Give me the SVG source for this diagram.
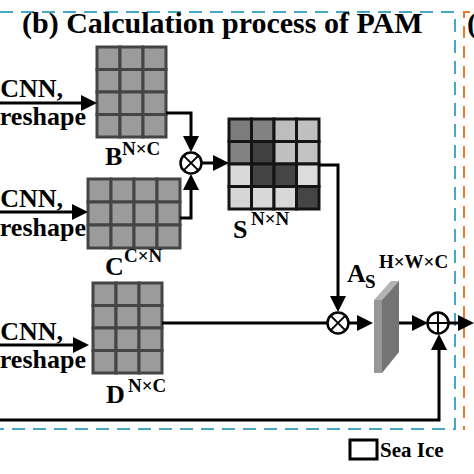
<svg xmlns="http://www.w3.org/2000/svg" width="474" height="474" viewBox="0 0 474 474">
<defs>
<marker id="ah" viewBox="0 0 16 16" refX="12" refY="8" markerWidth="16" markerHeight="16" markerUnits="userSpaceOnUse" orient="auto">
<path d="M0,0 L16,8 L0,16 z" fill="#000"/>
</marker>
</defs>
<style>
text{font-family:"Liberation Serif","Times New Roman",serif;font-weight:bold;fill:#000}
.t{font-size:30px}
.l{font-size:26px}
.s{font-size:19px}
.g rect{fill:#9b9b9b;stroke:#444;stroke-width:3}
.sm rect{stroke:#141414;stroke-width:3}
.c path,.c line{fill:none;stroke:#000;stroke-width:3}
.arr{marker-end:url(#ah)}
.op circle{fill:#fff;stroke:#000;stroke-width:2.5}
.op line{stroke:#000;stroke-width:2}
.blue{fill:none;stroke:#45a6c6;stroke-width:2;stroke-dasharray:13 8}
.orange{fill:none;stroke:#e8792e;stroke-width:2;stroke-dasharray:12 8}
</style>
<rect width="474" height="474" fill="#fff"/>
<g id="frame">
<path class="blue" d="M0,12 H455 V429 H0"/>
<path class="orange" d="M470,12 H464 V430"/>
</g>
<text class="t" x="22" y="33">(b) Calculation process of PAM</text>
<text class="t" x="467" y="33">(</text>
<g id="inputs">
<text class="l" x="63" y="97" text-anchor="end">CNN,</text>
<text class="l" x="86" y="125" text-anchor="end">reshape</text>
<text class="l" x="63" y="207" text-anchor="end">CNN,</text>
<text class="l" x="86" y="236" text-anchor="end">reshape</text>
<text class="l" x="63" y="340" text-anchor="end">CNN,</text>
<text class="l" x="86" y="368" text-anchor="end">reshape</text>
</g>
<g id="B" class="g">
<rect x="97" y="47" width="23" height="22.5"/><rect x="120" y="47" width="23" height="22.5"/><rect x="143" y="47" width="23" height="22.5"/>
<rect x="97" y="69.5" width="23" height="22.5"/><rect x="120" y="69.5" width="23" height="22.5"/><rect x="143" y="69.5" width="23" height="22.5"/>
<rect x="97" y="92" width="23" height="22.5"/><rect x="120" y="92" width="23" height="22.5"/><rect x="143" y="92" width="23" height="22.5"/>
<rect x="97" y="114.5" width="23" height="22.5"/><rect x="120" y="114.5" width="23" height="22.5"/><rect x="143" y="114.5" width="23" height="22.5"/>
<text class="l" x="105" y="165">B</text><text class="s" x="122" y="155">N×C</text>
</g>
<g id="C" class="g">
<rect x="88" y="179" width="23" height="23"/><rect x="111" y="179" width="23" height="23"/><rect x="134" y="179" width="23" height="23"/><rect x="157" y="179" width="23" height="23"/>
<rect x="88" y="202" width="23" height="23"/><rect x="111" y="202" width="23" height="23"/><rect x="134" y="202" width="23" height="23"/><rect x="157" y="202" width="23" height="23"/>
<rect x="88" y="225" width="23" height="23"/><rect x="111" y="225" width="23" height="23"/><rect x="134" y="225" width="23" height="23"/><rect x="157" y="225" width="23" height="23"/>
<text class="l" x="105" y="275">C</text><text class="s" x="124" y="262">C×N</text>
</g>
<g id="D" class="g">
<rect x="93" y="283" width="23" height="22.5"/><rect x="116" y="283" width="23" height="22.5"/><rect x="139" y="283" width="23" height="22.5"/>
<rect x="93" y="305.5" width="23" height="22.5"/><rect x="116" y="305.5" width="23" height="22.5"/><rect x="139" y="305.5" width="23" height="22.5"/>
<rect x="93" y="328" width="23" height="22.5"/><rect x="116" y="328" width="23" height="22.5"/><rect x="139" y="328" width="23" height="22.5"/>
<rect x="93" y="350.5" width="23" height="22.5"/><rect x="116" y="350.5" width="23" height="22.5"/><rect x="139" y="350.5" width="23" height="22.5"/>
<text class="l" x="106" y="403">D</text><text class="s" x="128" y="392">N×C</text>
</g>
<g id="S" class="sm">
<rect x="229" y="119" width="22.5" height="22.5" fill="#7c7c7c"/><rect x="251.5" y="119" width="22.5" height="22.5" fill="#828282"/><rect x="274" y="119" width="22.5" height="22.5" fill="#bdbdbd"/><rect x="296.5" y="119" width="22.5" height="22.5" fill="#c0c0c0"/>
<rect x="229" y="141.5" width="22.5" height="22.5" fill="#828282"/><rect x="251.5" y="141.5" width="22.5" height="22.5" fill="#404040"/><rect x="274" y="141.5" width="22.5" height="22.5" fill="#c0c0c0"/><rect x="296.5" y="141.5" width="22.5" height="22.5" fill="#c2c2c2"/>
<rect x="229" y="164" width="22.5" height="22.5" fill="#dadada"/><rect x="251.5" y="164" width="22.5" height="22.5" fill="#444"/><rect x="274" y="164" width="22.5" height="22.5" fill="#454545"/><rect x="296.5" y="164" width="22.5" height="22.5" fill="#dcdcdc"/>
<rect x="229" y="186.5" width="22.5" height="22.5" fill="#d6d6d6"/><rect x="251.5" y="186.5" width="22.5" height="22.5" fill="#d8d8d8"/><rect x="274" y="186.5" width="22.5" height="22.5" fill="#d8d8d8"/><rect x="296.5" y="186.5" width="22.5" height="22.5" fill="#454545"/>
<text class="l" x="233" y="238">S</text><text class="s" x="251" y="225">N×N</text>
</g>
<g id="AS">
<polygon points="374,300 382,300 399,281 391,281" fill="#b3b3b3"/>
<rect x="374" y="300" width="8" height="73" fill="#979797"/>
<polygon points="382,300 399,281 399,352 382,373" fill="#747474"/>
<text class="l" x="347" y="282">A</text><text class="s" x="365" y="288">S</text><text class="s" x="379" y="268">H×W×C</text>
</g>
<g id="connectors" class="c">
<line class="arr" x1="0" y1="103" x2="93" y2="103"/>
<line class="arr" x1="0" y1="212" x2="84" y2="212"/>
<line class="arr" x1="0" y1="345" x2="85" y2="345"/>
<path class="arr" d="M166,113 H191 V148"/>
<path class="arr" d="M180,218 H191 V178"/>
<line class="arr" x1="202" y1="163" x2="225" y2="163"/>
<path class="arr" d="M319,165 H338 V308"/>
<line x1="162" y1="323" x2="327" y2="323"/>
<line class="arr" x1="349" y1="323" x2="369" y2="323"/>
<line class="arr" x1="399" y1="323" x2="424" y2="323"/>
<line class="arr" x1="448" y1="323" x2="470" y2="323"/>
<path class="arr" d="M0,420 H439 V338"/>
</g>
<g id="mul1" class="op">
<circle cx="191" cy="163" r="10.5"/>
<line x1="183.6" y1="155.6" x2="198.4" y2="170.4"/><line x1="183.6" y1="170.4" x2="198.4" y2="155.6"/>
</g>
<g id="mul2" class="op">
<circle cx="338" cy="323" r="10.5"/>
<line x1="330.6" y1="315.6" x2="345.4" y2="330.4"/><line x1="330.6" y1="330.4" x2="345.4" y2="315.6"/>
</g>
<g id="add" class="op">
<circle cx="438" cy="323" r="10.5"/>
<line x1="427.5" y1="323" x2="448.5" y2="323"/><line x1="438" y1="312.5" x2="438" y2="333.5"/>
</g>
<g id="legend">
<rect x="350" y="440" width="27" height="19" fill="#fff" stroke="#000" stroke-width="3"/>
<text x="380" y="457" style="font-size:21px">Sea Ice</text>
</g>
</svg>
